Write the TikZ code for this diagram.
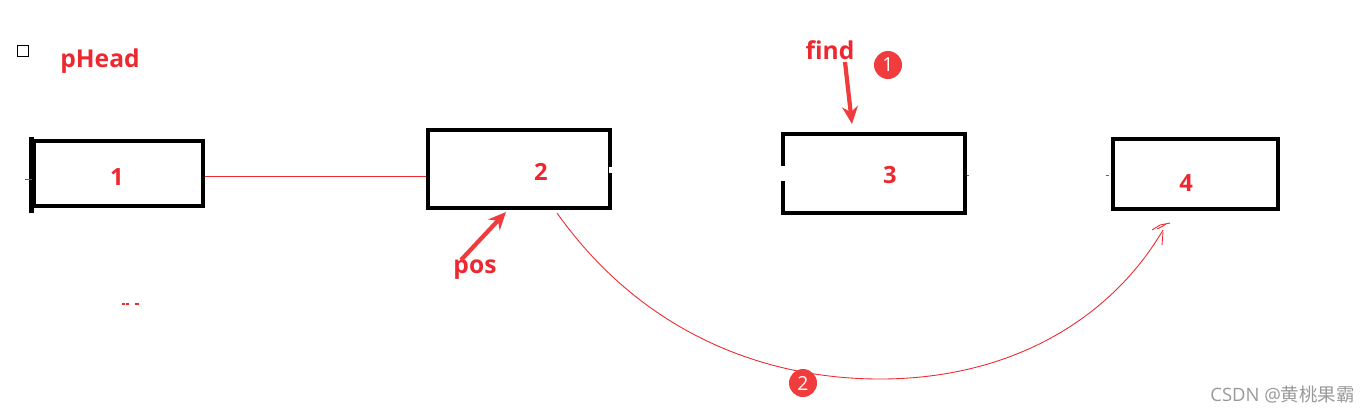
\documentclass[tikz,border=0pt]{standalone}
\usepackage{fontspec}
\setmainfont{Open Sans}
\newfontfamily\cjk{Noto Sans CJK SC}
\usetikzlibrary{arrows.meta}
\definecolor{cred}{RGB}{236,40,48}
\definecolor{cmark}{RGB}{240,60,60}
\tikzset{
  listbox/.style={draw=black, line width=2.6pt, inner sep=0pt, fill=white},
  redlabel/.style={text=cred, font=\bfseries\fontsize{14}{16}\selectfont, inner sep=0pt},
  numlabel/.style={text=cred, font=\bfseries\fontsize{13.5}{15}\selectfont, inner sep=0pt},
  badge/.style={circle, fill=cmark, text=white, minimum size=0.56cm, inner sep=0pt, font=\fontsize{11}{13}\selectfont},
  thinred/.style={draw=cred, line width=0.5pt},
  fatarrow/.style={draw=cmark, line width=2.4pt, -{Stealth[length=10pt,width=9pt]}},
}
\begin{document}
\begin{tikzpicture}[x=0.02cm,y=-0.02cm]
\useasboundingbox (0,0) rectangle (1368,414);
% boxes
\node[listbox, minimum width=3.38cm, minimum height=1.30cm] (b1) at (118.5,173.5) {};
\node[listbox, minimum width=3.64cm, minimum height=1.56cm] (b2) at (519,169) {};
\node[listbox, minimum width=3.64cm, minimum height=1.58cm] (b3) at (874,173.5) {};
\node[listbox, minimum width=3.30cm, minimum height=1.40cm] (b4) at (1195.5,174) {};
% extra details on edges
\draw[black, line width=2.6pt] (b1.north west) ++(0,-2) coordinate (e1a) -- ([yshift=-0.09cm]b1.south west) coordinate (e1b);
\fill[white] ([xshift=-2pt,yshift=-2pt]b2.east) rectangle ([xshift=2pt,yshift=1pt]b2.east);
\fill[white] ([xshift=-3pt,yshift=-4pt]b3.west) rectangle ([xshift=3pt,yshift=4pt]b3.west);
% labels
\node[numlabel] (t1) at (117,177) {1};
\node[numlabel] (t2) at (541,172) {2};
\node[numlabel] (t3) at (890,175) {3};
\node[numlabel] (t4) at (1186,183) {4};
% connectors
\coordinate (l1) at (25,179);
\draw[thinred] (l1) -- (b1.west |- l1);
\draw[thinred] (b1.east |- 0,176) -- (b2.west |- 0,176);
\coordinate (r3) at (969,175);
\draw[thinred] (b3.east |- r3) -- (r3);
\coordinate (l4) at (1106,175);
\draw[thinred] (l4) -- ++(3,0);
% head marker
\node[draw=black, line width=0.5pt, minimum size=6pt, inner sep=0pt] (sq) at (23,51) {};
\node[redlabel] (phead) at (100,61) {pHead};
% find
\node[redlabel] (find) at (830,50) {find};
\coordinate (findtip) at (852,124);
\draw[fatarrow] (845,62) -- (findtip);
\node[badge] (c1) at (888,65) {1};
% pos
\node[redlabel] (pos) at (475,270) {pos};
\coordinate (postip) at (506,212);
\draw[fatarrow] (461,260) -- (postip);
% curve
\coordinate (cs) at (557,213);
\coordinate (cm) at (880,379);
\coordinate (ce) at (1163,230);
\draw[thinred] (cs) .. controls (640,330) and (760,379) .. (cm) .. controls (1010,379) and (1110,320) .. (ce);
\draw[thinred] (1152,230) -- (1160,225) -- (1170,223);
\draw[thinred] (1157,229) -- (1163,226) -- (1166,224);
\draw[thinred] (1162,245) -- (1163,232);
\node[badge] (c2) at (803,383) {2};
% stray dots
\draw[cred, line width=0.8pt, dash pattern=on 1.5pt off 1pt] (122,304) -- (129,304);
\draw[cred, line width=0.8pt] (135,304) -- (139,304);
% watermark
\node[text=gray!80, font=\fontsize{10.5}{12}\selectfont, anchor=east, inner sep=0pt] (wm) at (1355,395) {CSDN @{\cjk 黄桃果霸}};
\end{tikzpicture}
\end{document}
